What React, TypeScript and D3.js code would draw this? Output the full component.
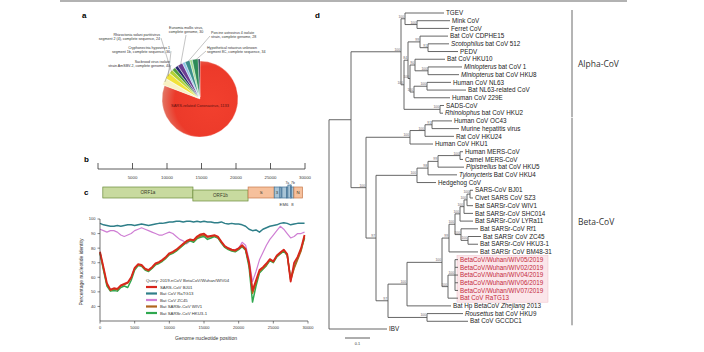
import * as d3 from "d3"

// ---------- a: metagenomic reads per virus ----------
const pieValues = [1133, 40, 36, 24, 20, 18, 30, 16, 28, 14, 34, 10]
const pieColors = ["#ec3a2a", "#f7f2c4", "#f1e23a", "#b3d236", "#4d9a3d", "#23246e", "#6c3d91", "#8fc4e8", "#3a8f8a", "#9ed98a", "#2e8b57", "#0f1c3c"]
const pieMainLabel = "SARS-related Coronavirus, 1133"
const pieSideLabels = [
  ["Sacbrood virus isolate", "strain AmSBV-2, complete genome, 40"],
  ["Cryphonectria hypovirus 1", "segment 1b, complete sequence, 36"],
  ["Rhizoctonia solani partitivirus", "segment 2 (4), complete sequence, 24"],
  ["Eunomia mollis virus,", "complete genome, 30"],
  ["Porcine astrovirus 4 isolate", "strain, complete genome, 28"],
  ["Hypothetical rotavirus unknown", "segment 8C, complete sequence, 34"],
]
const pieSideSlices = [1, 2, 3, 6, 8, 10]

// ---------- b/c: genome map ----------
const genomeTicks = [0, 5000, 10000, 15000, 20000, 25000, 30000]
const geneNames = ["ORF1a", "ORF1b", "S", "3", "E", "M", "6", "7a", "7b", "8", "N"]
const geneStart = [266, 13468, 21563, 25393, 26245, 26523, 27202, 27394, 27756, 27894, 28274]
const geneEnd = [13483, 21555, 25384, 26220, 26472, 27191, 27387, 27759, 27887, 28259, 29533]
const geneKind = ["orf", "orf", "sn", "acc", "acc", "acc", "acc", "acc", "acc", "acc", "sn"]

// ---------- c: similarity plot ----------
const simPositions = [0, 500, 1000, 1500, 2000, 2500, 3000, 3500, 4000, 4500, 5000, 5500, 6000, 6500, 7000, 7500, 8000, 8500, 9000, 9500, 10000, 10500, 11000, 11500, 12000, 12500, 13000, 13500, 14000, 14500, 15000, 15500, 16000, 16500, 17000, 17500, 18000, 18500, 19000, 19500, 20000, 20500, 21000, 21500, 22000, 22500, 23000, 23500, 24000, 24500, 25000, 25500, 26000, 26500, 27000, 27500, 28000, 28500, 29000, 29500]
const sarsBJ01 = [77.5, 67, 56, 51.5, 52.5, 52, 54.5, 55.5, 56.5, 60, 66.5, 69, 68.5, 66, 65, 67, 69.5, 70.5, 72, 74, 76.5, 77.5, 79, 81, 83, 85, 86, 85.5, 88, 89.5, 90, 88, 88.5, 89, 88, 84.5, 81.5, 80, 79, 78.5, 80, 82, 79.5, 70, 51, 58, 65, 67, 69.5, 72.5, 71, 75, 77, 79, 76, 57, 70, 74, 80, 89]
const ratg13 = [97, 96, 95.5, 95, 95, 95.5, 95, 95.5, 96, 96, 95.5, 96, 96.5, 96, 95.5, 96, 96.5, 97, 97, 97.5, 98, 98, 98.5, 98.5, 98, 98.5, 98.5, 98, 98.5, 98, 98.5, 98, 98, 97.5, 97.5, 98, 97, 96.5, 97, 96.5, 96.5, 96, 95, 93, 92, 92.5, 91, 93, 94, 95, 95.5, 96, 97, 97.5, 97, 96, 96.5, 97, 97, 97]
const zc45 = [93, 92, 91, 92, 92, 91, 89, 88, 89, 90, 92, 93, 94, 93, 92, 91, 90, 89, 89, 90, 91, 90, 88, 86, 85, 83, 85, 85, 87, 88, 89, 87, 88, 88, 87, 84, 81, 80, 79, 79, 80, 84, 82, 72, 57, 64, 72, 77, 82, 86, 89, 92, 95, 93, 90, 87, 88, 90, 90, 91]
const wiv1 = [77, 66, 55, 51, 52, 51.5, 54, 55, 56, 59.5, 66, 68.5, 68, 65.5, 64.5, 66.5, 69, 70, 71.5, 73.5, 76, 77, 78.5, 80.5, 82.5, 84.5, 85.5, 85, 87, 88.5, 89, 87.5, 88, 88.5, 87.5, 84, 81, 79.5, 78.5, 78, 79.5, 81.5, 79, 69, 49, 56, 64, 66, 68.5, 72, 70.5, 74.5, 76.5, 78.5, 75.5, 58, 66, 72, 78, 88]
const hku31 = [76.5, 65, 54, 50.5, 51, 50.5, 53, 54, 53, 58, 65, 68, 67.5, 65, 64, 66, 68.5, 69.5, 71, 73, 75.5, 76.5, 78, 80, 82, 84, 85, 84, 86.5, 87.5, 88, 86, 87, 88, 87, 83.5, 80.5, 79, 78, 77.5, 79, 81, 78.5, 67, 43, 54, 63, 65.5, 68, 71.5, 70, 74, 76, 78, 75, 59, 67, 73, 79, 87]
const simNames = ["SARS-CoV BJ01", "Bat CoV RaTG13", "Bat CoV ZC45", "Bat SARSr-CoV WIV1", "Bat SARSr-CoV HKU3-1"]
const simColors = ["#d8261c", "#2f7f89", "#cf7fd4", "#b0651d", "#2fa84f"]
const simYTicks = [40, 50, 60, 70, 80, 90, 100]

// ---------- d: phylogeny (branch lengths, bootstrap) ----------
type TNode = { name?: string; len: number; boot?: number; children?: TNode[] }
const leaf = (name: string, len: number): TNode => ({ name, len })
const clade = (len: number, boot: number, ...children: TNode[]): TNode => ({ len, boot, children })

const tree = clade(0, 0,
  clade(0.088, 0,
    clade(0.2, 100,
      clade(0.016, 100,
        leaf("TGEV", 0.156),
        clade(0.048, 100, leaf("Mink CoV", 0.132), leaf("Ferret CoV", 0.128))),
      clade(0.012, 100,
        clade(0.016, 84,
          clade(0.048, 99,
            leaf("Bat CoV CDPHE15", 0.112),
            clade(0.032, 91, leaf("Scotophilus bat CoV 512", 0.084), leaf("PEDV", 0.12))),
          clade(0.008, 100,
            clade(0.02, 90,
              leaf("Bat CoV HKU10", 0.12),
              clade(0.052, 100, leaf("Miniopterus bat CoV 1", 0.136), leaf("Miniopterus bat CoV HKU8", 0.124))),
            clade(0.016, 100,
              clade(0.052, 100, leaf("Human CoV NL63", 0.096), leaf("Bat NL63-related CoV", 0.156)),
              leaf("Human CoV 229E", 0.144)))),
        clade(0.144, 100, leaf("SADS-CoV", 0.016), leaf("Rhinolophus bat CoV HKU2", 0.012)))),
    clade(0.06, 100,
      clade(0.176, 100,
        clade(0.06, 100,
          clade(0.028, 91, leaf("Human CoV OC43", 0.08), leaf("Murine hepatitis virus", 0.108)),
          leaf("Rat CoV HKU24", 0.116)),
        leaf("Human CoV HKU1", 0.092)),
      clade(0.04, 97,
        clade(0.164, 100,
          clade(0.044, 98,
            clade(0.04, 99,
              clade(0.088, 100, leaf("Human MERS-CoV", 0.012), leaf("Camel MERS-CoV", 0.012)),
              leaf("Pipistrellus bat CoV HKU5", 0.104)),
            leaf("Tylonycteris Bat CoV HKU4", 0.116)),
          leaf("Hedgehog CoV", 0.076)),
        clade(0.048, 97,
          clade(0.076, 100,
            clade(0.14, 100,
              clade(0.028, 99,
                clade(0.024, 100,
                  clade(0.02, 100,
                    clade(0.016, 100,
                      clade(0.012, 100,
                        clade(0.012, 100, leaf("SARS-CoV BJ01", 0.012), leaf("Civet SARS CoV SZ3", 0.012)),
                        leaf("Bat SARSr-CoV WIV1", 0.024)),
                      leaf("Bat SARSr-CoV SHC014", 0.036)),
                    leaf("Bat SARSr-CoV LYRa11", 0.052)),
                  clade(0.024, 100,
                    leaf("Bat SARSr-CoV Rf1", 0.068),
                    clade(0.028, 100, leaf("Bat SARSr CoV ZC45", 0.052), leaf("Bat SARSr-CoV HKU3-1", 0.04)))),
                leaf("Bat SARSr CoV BM48-31", 0.116)),
              clade(0.024, 100,
                clade(0.028, 100,
                  leaf("BetaCoV/Wuhan/WIV05/2019", 0.012),
                  leaf("BetaCoV/Wuhan/WIV02/2019", 0.012),
                  leaf("BetaCoV/Wuhan/WIV04/2019", 0.012),
                  leaf("BetaCoV/Wuhan/WIV06/2019", 0.012),
                  leaf("BetaCoV/Wuhan/WIV07/2019", 0.012)),
                leaf("Bat CoV RaTG13", 0.04))),
            leaf("Bat Hp BetaCoV Zhejiang 2013", 0.176)),
          clade(0.156, 100, leaf("Rousettus bat CoV HKU9", 0.144), leaf("Bat CoV GCCDC1", 0.164)))))),
  leaf("IBV", 0.232))

const italicWords = ["Scotophilus", "Miniopterus", "Rhinolophus", "Pipistrellus", "Tylonycteris", "Rousettus", "Zhejiang"]
const redLeaves = ["BetaCoV/Wuhan/WIV05/2019", "BetaCoV/Wuhan/WIV02/2019", "BetaCoV/Wuhan/WIV04/2019", "BetaCoV/Wuhan/WIV06/2019", "BetaCoV/Wuhan/WIV07/2019", "Bat CoV RaTG13"]
const cladeNames = ["Alpha-CoV", "Beta-CoV"]
const cladeFirstLeaf = ["TGEV", "Human CoV OC43"]
const cladeLastLeaf = ["Rhinolophus bat CoV HKU2", "Bat CoV GCCDC1"]

const SANS = "'Liberation Sans', Arial, sans-serif"

function PanelA() {
  const cx = 200, cy = 99, r = 38
  const arcs = d3.pie<number>().sort(null)(pieValues)
  const arc = d3.arc<d3.PieArcDatum<number>>().innerRadius(0).outerRadius(r)
  const edge = d3.arc<d3.PieArcDatum<number>>().innerRadius(r + 1).outerRadius(r + 1)
  const layout = [
    { x: 170, y: 63, a: "end" },
    { x: 170, y: 49, a: "end" },
    { x: 160, y: 36, a: "end" },
    { x: 186, y: 29, a: "middle" },
    { x: 211, y: 34, a: "start" },
    { x: 207, y: 49, a: "start" },
  ]
  return (
    <g>
      <text x={82} y={18} fontSize={8} fontWeight="bold" fontFamily={SANS}>a</text>
      <defs>
        <radialGradient id="redGrad" cx="0.65" cy="0.55" r="0.75">
          <stop offset="0%" stopColor="#f2402e" />
          <stop offset="65%" stopColor="#ec3a2a" />
          <stop offset="100%" stopColor="#dc9a88" />
        </radialGradient>
      </defs>
      <g transform={`translate(${cx},${cy})`}>
        {arcs.map((d, i) => {
          const mid = (d.startAngle + d.endAngle) / 2
          const off = i === 0 ? 0 : 2
          return (
            <path key={i} d={arc(d) ?? ""} transform={`translate(${Math.sin(mid) * off},${-Math.cos(mid) * off})`}
              fill={i === 0 ? "url(#redGrad)" : pieColors[i]} stroke="#fff" strokeWidth={0.3} />
          )
        })}
        <text x={0} y={8} fontSize={4} textAnchor="middle" fill="#5a1010" fontFamily={SANS}>{pieMainLabel}</text>
      </g>
      {pieSideLabels.map((lines, k) => {
        const L = layout[k]
        const [ex, ey] = edge.centroid(arcs[pieSideSlices[k]])
        const sx = L.a === "end" ? L.x + 1 : L.a === "start" ? L.x - 1 : L.x
        const sy = L.a === "middle" ? L.y + 6 : L.y + 2
        return (
          <g key={k}>
            <line x1={sx} y1={sy} x2={cx + ex} y2={cy + ey} stroke="#555" strokeWidth={0.35} />
            {lines.map((t, j) => (
              <text key={j} x={L.x} y={L.y + j * 4.2} fontSize={3.6} textAnchor={L.a} fill="#333" fontFamily={SANS}>{t}</text>
            ))}
          </g>
        )
      })}
    </g>
  )
}

function PanelBC() {
  const bX = d3.scaleLinear().domain([0, 30000]).range([98, 305])
  const gX = d3.scaleLinear().domain([0, 29903]).range([101, 305])
  const fills: Record<string, string> = { orf: "#c8da9f", sn: "#f6c09c", acc: "#a8c4d6" }
  const strokes: Record<string, string> = { orf: "#6a8a3a", sn: "#c77a4c", acc: "#3f6f94" }
  const below = ["E", "M", "6", "8"]
  const above = ["7a", "7b"]
  return (
    <g fontFamily={SANS}>
      <text x={84} y={162} fontSize={8} fontWeight="bold">b</text>
      <line x1={bX(0)} x2={bX(30000)} y1={169} y2={169} stroke="#333" strokeWidth={0.8} />
      {genomeTicks.map((t) => (
        <g key={t}>
          <line x1={bX(t)} x2={bX(t)} y1={163} y2={169} stroke="#333" strokeWidth={0.8} />
          {t > 0 && <text x={bX(t)} y={178.5} fontSize={4.3} textAnchor="middle" fill="#333">{t}</text>}
        </g>
      ))}
      <text x={84} y={195} fontSize={8} fontWeight="bold">c</text>
      {geneNames.map((g, i) => {
        const k = geneKind[i]
        const y0 = g === "ORF1b" ? 190 : above.includes(g) ? 185 : 187
        const h = above.includes(g) ? 13 : 11
        const x0 = gX(geneStart[i]), x1 = gX(geneEnd[i])
        const shift = g === "7a" ? -1.8 : g === "7b" ? 2.2 : 0
        return (
          <g key={g}>
            <rect x={x0} y={y0} width={x1 - x0} height={h} fill={fills[k]} stroke={strokes[k]} strokeWidth={0.7} />
            {!below.includes(g) && !above.includes(g) && (
              <text x={(x0 + x1) / 2} y={y0 + h / 2 + 1.6} fontSize={g.length > 1 ? 4.6 : 4.4} textAnchor="middle" fill="#3a3a2a">{g}</text>
            )}
            {below.includes(g) && <text x={(x0 + x1) / 2} y={206} fontSize={4.2} textAnchor="middle" fill="#333">{g}</text>}
            {above.includes(g) && <text x={(x0 + x1) / 2 + shift} y={183.5} fontSize={3.4} textAnchor="middle" fill="#333">{g}</text>}
          </g>
        )
      })}
    </g>
  )
}

function SimPlot() {
  const sX = d3.scaleLinear().domain([0, 30000]).range([100, 308])
  const sY = d3.scaleLinear().domain([30, 100]).range([321, 219])
  const series = [sarsBJ01, ratg13, zc45, wiv1, hku31]
  const drawOrder = [1, 2, 4, 3, 0]
  const widths = [1.8, 1.5, 1.2, 1.5, 1.5]
  const line = d3.line<number>().x((_, i) => sX(simPositions[i])).y((v) => sY(v))
  return (
    <g fontFamily={SANS}>
      {drawOrder.map((s) => (
        <path key={s} d={line(series[s]) ?? ""} fill="none" stroke={simColors[s]} strokeWidth={widths[s]} strokeLinejoin="round" />
      ))}
      <line x1={100} x2={100} y1={sY(100)} y2={sY(30)} stroke="#333" strokeWidth={0.7} />
      <line x1={100} x2={308} y1={sY(30)} y2={sY(30)} stroke="#333" strokeWidth={0.7} />
      {simYTicks.map((t) => (
        <g key={t}>
          <line x1={97.5} x2={100} y1={sY(t)} y2={sY(t)} stroke="#333" strokeWidth={0.6} />
          <text x={95.5} y={sY(t) + 1.4} fontSize={4} textAnchor="end" fill="#333">{t}</text>
        </g>
      ))}
      {genomeTicks.map((t) => (
        <g key={t}>
          <line x1={sX(t)} x2={sX(t)} y1={321} y2={323.5} stroke="#333" strokeWidth={0.6} />
          <text x={sX(t)} y={329} fontSize={4} textAnchor="middle" fill="#333">{t}</text>
        </g>
      ))}
      <text x={206} y={340} fontSize={5} textAnchor="middle" fill="#333">Genome nucleotide position</text>
      <text transform="translate(83,272) rotate(-90)" fontSize={5} textAnchor="middle" fill="#333">Percentage nucleotide identity</text>
      <text x={146} y={281.5} fontSize={4.3} fill="#333">Query: 2019-nCoV BetaCoV/Wuhan/WIV04</text>
      {simNames.map((n, i) => (
        <g key={n}>
          <line x1={146} x2={157} y1={287 + i * 6.5} y2={287 + i * 6.5} stroke={simColors[i]} strokeWidth={2.2} />
          <text x={160} y={288.5 + i * 6.5} fontSize={4.3} fill="#333">{n}</text>
        </g>
      ))}
    </g>
  )
}

type PNode = d3.HierarchyNode<TNode> & { dist: number; yy: number }

function LeafLabel({ name, x, y }: { name: string; x: number; y: number }) {
  const words = name.split(" ")
  const red = redLeaves.includes(name)
  return (
    <text x={x} y={y + 2.2} fontSize={6.3} fill={red ? "#c42a3c" : "#222"} fontFamily={SANS}>
      {words.map((w, i) => (
        <tspan key={i} fontStyle={italicWords.includes(w) ? "italic" : "normal"}>{(i > 0 ? " " : "") + w}</tspan>
      ))}
    </text>
  )
}

function PanelD() {
  const root = d3.hierarchy<TNode>(tree, (d) => d.children) as PNode
  root.each((n) => {
    const p = n as PNode
    p.dist = (p.parent ? (p.parent as PNode).dist : 0) + p.data.len
  })
  const leaves = root.leaves() as PNode[]
  const yLeaf = d3.scaleLinear().domain([0, leaves.length - 1]).range([13, 329])
  leaves.forEach((l, i) => (l.yy = yLeaf(i)))
  root.eachAfter((n) => {
    const p = n as PNode
    if (p.children) p.yy = ((p.children[0] as PNode).yy + (p.children[p.children.length - 1] as PNode).yy) / 2
  })
  const xT = d3.scaleLinear().domain([0, 0.1]).range([329, 354])
  const nodes = root.descendants() as PNode[]
  const yOf = (name: string) => leaves.find((l) => l.data.name === name)!.yy
  const redY = redLeaves.map(yOf)
  return (
    <g>
      <text x={315} y={18} fontSize={8} fontWeight="bold" fontFamily={SANS}>d</text>
      <rect x={457} y={d3.min(redY)! - 4} width={91} height={d3.max(redY)! - d3.min(redY)! + 8} fill="#fbe6ea" stroke="#eab0bb" strokeWidth={0.4} />
      {nodes.map((n, i) => {
        const x = xT(n.dist)
        return (
          <g key={i}>
            {n.parent && <line x1={xT((n.parent as PNode).dist)} x2={x} y1={n.yy} y2={n.yy} stroke="#555" strokeWidth={0.9} />}
            {n.children && (
              <line x1={x} x2={x} y1={(n.children[0] as PNode).yy} y2={(n.children[n.children.length - 1] as PNode).yy} stroke="#555" strokeWidth={0.9} />
            )}
            {n.children && n.data.boot ? (
              <text x={x - 1} y={n.yy - 1} fontSize={3.3} textAnchor="end" fill="#666" fontFamily={SANS}>{n.data.boot}</text>
            ) : null}
            {!n.children && <LeafLabel name={n.data.name!} x={x + 2} y={n.yy} />}
          </g>
        )
      })}
      {cladeNames.map((c, i) => {
        const y0 = yOf(cladeFirstLeaf[i]) - 3
        const y1 = yOf(cladeLastLeaf[i]) + 4
        return (
          <g key={c}>
            <line x1={572} x2={572} y1={y0} y2={y1} stroke="#444" strokeWidth={0.8} />
            <text x={578} y={(y0 + y1) / 2 + 3} fontSize={8.5} fill="#333" fontFamily="'Open Sans', sans-serif">{c}</text>
          </g>
        )
      })}
      <line x1={xT(0.064)} x2={xT(0.164)} y1={338} y2={338} stroke="#333" strokeWidth={0.8} />
      <text x={xT(0.114)} y={344.5} fontSize={3.8} textAnchor="middle" fill="#333" fontFamily={SANS}>0.1</text>
    </g>
  )
}

export default function App() {
  return (
    <svg width={704} height={352} style={{ position: "absolute", left: 0, top: 0, background: "#fff" }}>
      <line x1={60} x2={627} y1={1} y2={1} stroke="#999" strokeWidth={1.5} />
      <PanelA />
      <PanelBC />
      <SimPlot />
      <PanelD />
    </svg>
  )
}
